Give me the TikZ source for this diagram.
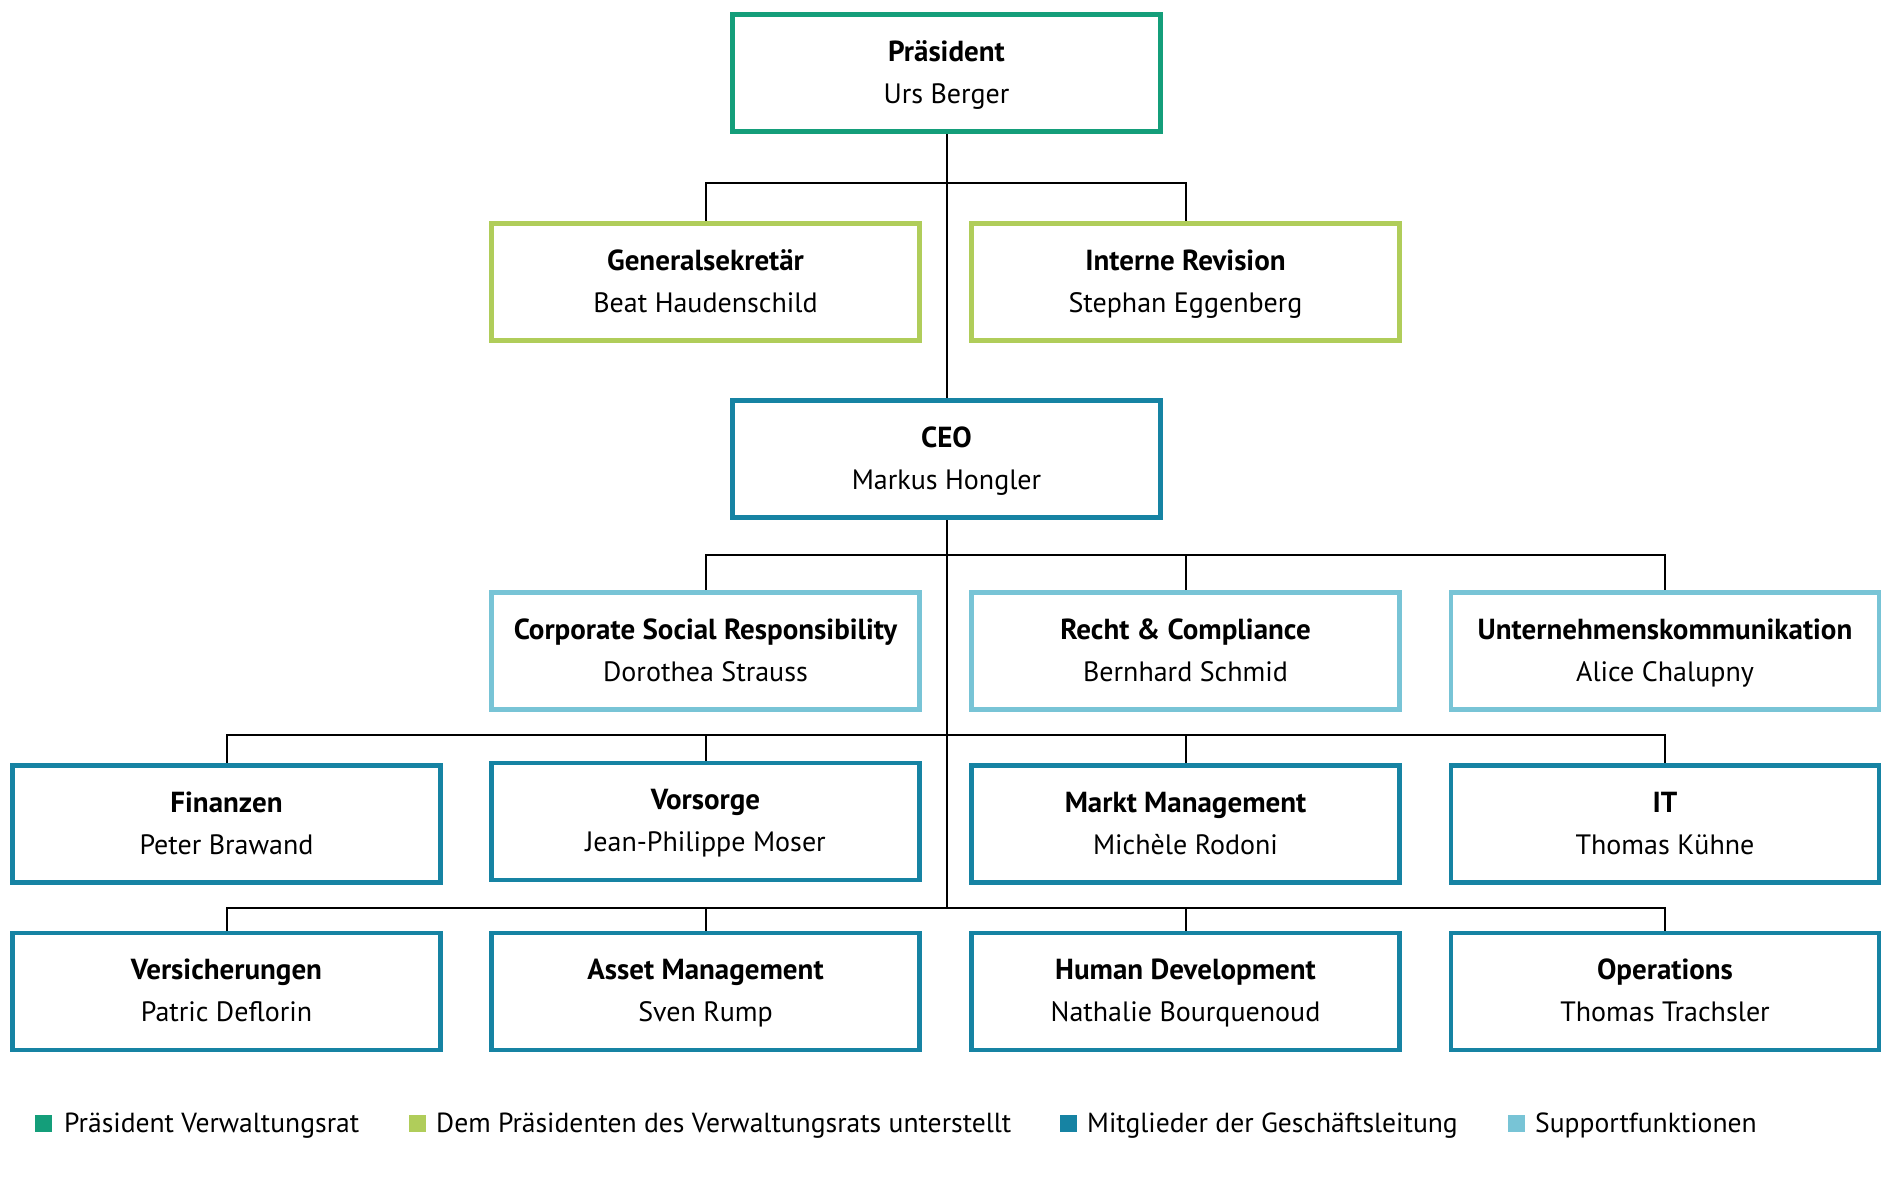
\documentclass[tikz,border=0pt]{standalone}
\usepackage{fontspec}
\setmainfont{PT Sans}
\usetikzlibrary{backgrounds}
\definecolor{presgreen}{HTML}{149E7A}
\definecolor{lgreen}{HTML}{B0CD5A}
\definecolor{dblue}{HTML}{1683A3}
\definecolor{lblue}{HTML}{78C4D6}
\newcommand\obox[6]{%
  \node[orgbox, draw=#4] (#1) at (#2,#3) {};
  \node[ttl] (#1-t) at (#2,#3-12) {#5};
  \node[nm] (#1-n) at (#2,#3+30) {#6};
}
\begin{document}
\begin{tikzpicture}[x=1pt,y=-1pt,
  orgbox/.style={draw, line width=4.3pt, minimum width=428pt, minimum height=117pt, inner sep=0pt, fill=white},
  ttl/.style={anchor=base, inner sep=0pt, font=\bfseries\fontsize{29}{34}\selectfont},
  nm/.style={anchor=base, inner sep=0pt, font=\fontsize{28}{33}\selectfont},
  conn/.style={line width=2pt, draw=black},
  lsq/.style={minimum size=17pt, inner sep=0pt},
  ltxt/.style={anchor=base west, inner sep=0pt, font=\fontsize{27.6}{32}\selectfont}]
\useasboundingbox (0,0) rectangle (1888,1191);

\obox{pres}{946.5}{73}{presgreen}{Präsident}{Urs Berger}
\obox{gs}{705.5}{282}{lgreen}{Generalsekretär}{Beat Haudenschild}
\obox{ir}{1185.5}{282}{lgreen}{Interne Revision}{Stephan Eggenberg}
\obox{ceo}{946.5}{459}{dblue}{CEO}{Markus Hongler}
\obox{csr}{705.5}{651}{lblue}{Corporate Social Responsibility}{Dorothea Strauss}
\obox{rc}{1185.5}{651}{lblue}{Recht \& Compliance}{Bernhard Schmid}
\obox{uk}{1665}{651}{lblue}{Unternehmenskommunikation}{Alice Chalupny}
\obox{fin}{226.5}{824}{dblue}{Finanzen}{Peter Brawand}
\obox{vor}{705.5}{821.5}{dblue}{Vorsorge}{Jean-Philippe Moser}
\obox{mm}{1185.5}{824}{dblue}{Markt Management}{Michèle Rodoni}
\obox{it}{1665}{824}{dblue}{IT}{Thomas Kühne}
\obox{vs}{226.5}{991.5}{dblue}{Versicherungen}{Patric Deflorin}
\obox{am}{705.5}{991.5}{dblue}{Asset Management}{Sven Rump}
\obox{hd}{1185.5}{991.5}{dblue}{Human Development}{Nathalie Bourquenoud}
\obox{op}{1665}{991.5}{dblue}{Operations}{Thomas Trachsler}

\coordinate (b1) at (946.5,183);
\coordinate (b2) at (946.5,555);
\coordinate (b3) at (946.5,735);
\coordinate (b4) at (946.5,908);

\begin{scope}[on background layer]
\fill[white] (0,0) rectangle (1888,1191);
\draw[conn] (pres.south) -- (ceo.north);
\draw[conn] (ceo.south) -- (b4);
\draw[conn] (gs.north) |- (b1) -| (ir.north);
\draw[conn] (csr.north) |- (b2) -| (uk.north);
\draw[conn] (rc.north) -- (rc.north |- b2);
\draw[conn] (fin.north) |- (b3) -| (it.north);
\draw[conn] (vor.north) -- (vor.north |- b3);
\draw[conn] (mm.north) -- (mm.north |- b3);
\draw[conn] (vs.north) |- (b4) -| (op.north);
\draw[conn] (am.north) -- (am.north |- b4);
\draw[conn] (hd.north) -- (hd.north |- b4);
\end{scope}

\node[lsq, fill=presgreen] (l1) at (43.5,1123.5) {};
\node[ltxt] (l1t) at (64,1132) {Präsident Verwaltungsrat};
\node[lsq, fill=lgreen] (l2) at (417,1123.5) {};
\node[ltxt] (l2t) at (436,1132) {Dem Präsidenten des Verwaltungsrats unterstellt};
\node[lsq, fill=dblue] (l3) at (1068,1123.5) {};
\node[ltxt] (l3t) at (1087,1132) {Mitglieder der Geschäftsleitung};
\node[lsq, fill=lblue] (l4) at (1516,1123.5) {};
\node[ltxt] (l4t) at (1535,1132) {Supportfunktionen};
\end{tikzpicture}
\end{document}
